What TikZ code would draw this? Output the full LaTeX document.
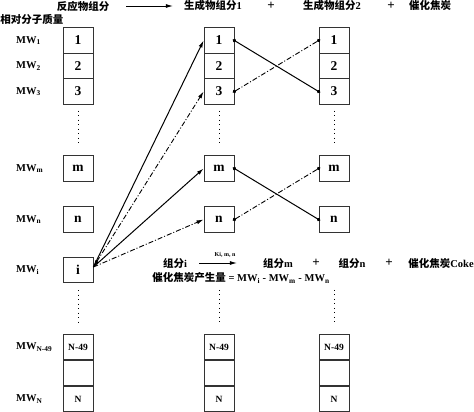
\documentclass[tikz,border=0pt]{standalone}
\usepackage{fontspec}
\setmainfont{Liberation Serif}
\newfontfamily\cjk{Noto Sans CJK SC}
\usetikzlibrary{arrows.meta,calc,positioning}
\newcommand\zh[1]{{\cjk\bfseries #1}}
\newcommand\mainsize{\fontsize{10.5}{12}\selectfont}
\tikzset{
  cell/.style    = {draw=black!80, line width=0.8pt, minimum width=30pt,
                    minimum height=25.5pt, inner sep=0pt,
                    font=\fontsize{13.5}{15}\selectfont\bfseries},
  smallcell/.style = {cell, font=\fontsize{9.5}{11}\selectfont\bfseries},
  txt/.style     = {inner sep=0pt, font=\mainsize\bfseries},
  plus/.style    = {txt, font=\fontsize{13}{14}\selectfont\bfseries},
  vdots/.style   = {line width=1pt, dash pattern=on 1pt off 3.5pt},
  link/.style    = {line width=1pt},
  dashdot/.style = {line width=0.9pt, dash pattern=on 5pt off 2pt on 1pt off 2pt},
  ends/.style    = {{Circle[length=3.5pt]}-{Circle[length=3.5pt]},
                    shorten <=-1.75pt, shorten >=-1.75pt},
  tip/.style     = {-{Latex[length=7pt,width=4pt]}},
}
\begin{document}
\begin{tikzpicture}[x=1pt,y=-1pt]
  \useasboundingbox (0,0) rectangle (474,412);
  % header
  \node[txt] (hR)  at (83,6)  {\zh{反应物组分}};
  \node[txt] (hP1) at (213,6) {\zh{生成物组分}1};
  \node[plus] (hp1) at (271,6) {+};
  \node[txt] (hP2) at (332,6) {\zh{生成物组分}2};
  \node[plus] (hp2) at (391,6) {+};
  \node[txt] (hC)  at (430,6) {\zh{催化焦炭}};
  \draw[tip, line width=0.9pt, shorten <=17pt, shorten >=11pt] (hR) -- (hP1);
  \node[txt] (mwlab) at (32,19) {\zh{相对分子质量}};
  % columns of components
  \foreach \col/\x in {a/78,b/219,c/334}{
    \node[cell] (\col1) at (\x,40.5) {1};
    \node[cell] (\col2) at (\x,66)   {2};
    \node[cell] (\col3) at (\x,91.5) {3};
    \node[cell] (\col m) at (\x,168.5) {m};
    \node[cell] (\col n) at (\x,219.5) {n};
    \node[smallcell] (\col49) at (\x,347) {N-49};
    \node[smallcell] (\col e)  at (\x,373) {};
    \node[smallcell] (\col N)  at (\x,399) {N};
    \draw[vdots] ([yshift=-6pt]\col3.south) -- ([yshift=11pt]\col m.north);
  }
  \node[cell] (ai) at (78,270) {i};
  \draw[vdots] ([yshift=-7pt]ai.south) -- ([yshift=9pt]a49.north);
  \draw[vdots] ([yshift=44pt]b49.north) -- ([yshift=9pt]b49.north);
  \draw[vdots] ([yshift=44pt]c49.north) -- ([yshift=9pt]c49.north);
  % relative molecular weights
  \foreach \row/\lab in {a1/1,a2/2,a3/3,am/m,an/n,ai/i,a49/N-49,aN/N}
    \node[txt, anchor=west] (mw\row) at (16,0 |- \row) {MW\textsubscript{\lab}};
  % cracking of component i
  \coordinate (iout) at ([yshift=3pt]ai.east);
  \draw[link, tip] (iout) -- (b1.west);
  \draw[dashdot, {Latex[length=7pt,width=4pt]}-{Latex[length=7pt,width=4pt]}] (iout) -- (b3.west);
  \draw[link, tip] (iout) -- (bm.west);
  \draw[dashdot, tip] (iout) -- (bn.west);
  % products pairs
  \draw[link, ends] (b1.east) -- (c3.west);
  \draw[dashdot, ends] (b3.east) -- (c1.west);
  \draw[link, ends] (bm.east) -- (cn.west);
  \draw[dashdot, ends] (bn.east) -- (cm.west);
  % reaction
  \node[txt] (ri)  at (175,263) {\zh{组分}i};
  \node[txt] (rm)  at (278,263) {\zh{组分}m};
  \node[plus] (rp1) at (316,263) {+};
  \node[txt] (rn)  at (352,263) {\zh{组分}n};
  \node[plus] (rp2) at (389,263) {+};
  \node[txt] (rc)  at (441,263) {\zh{催化焦炭}Coke};
  \draw[tip, line width=0.9pt, shorten <=12pt, shorten >=26pt] (ri) --
    node[above=2pt, font=\fontsize{6}{7}\selectfont\bfseries]{Ki, m, n} (rm);
  \node[txt] (yield) at (241,278) {\zh{催化焦炭产生量} = MW\textsubscript{i} - MW\textsubscript{m} - MW\textsubscript{n}};
\end{tikzpicture}
\end{document}
